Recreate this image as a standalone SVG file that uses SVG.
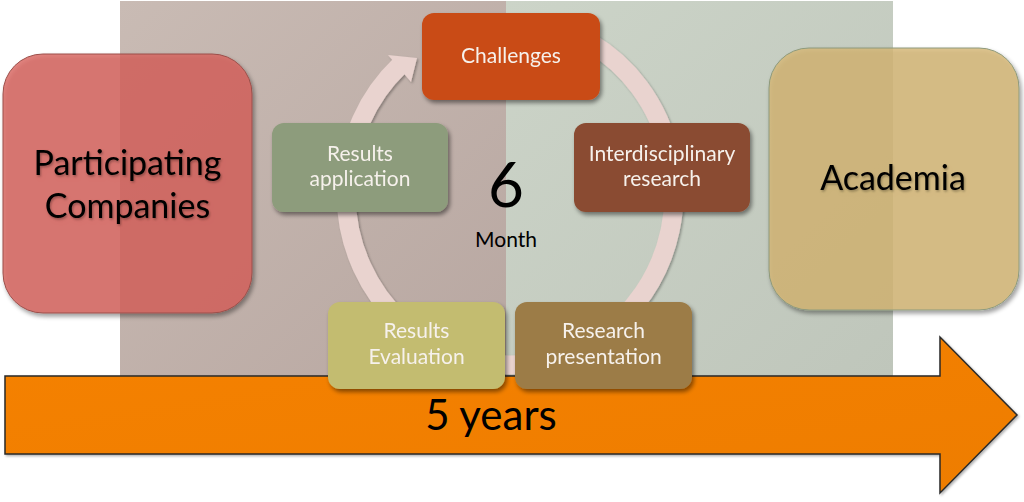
<svg xmlns="http://www.w3.org/2000/svg" width="1024" height="502" viewBox="0 0 1024 502">
<defs>
<style>
.big{font-family:Lato,"Open Sans",sans-serif;font-size:34px;fill:#000;text-anchor:middle}
.nt{font-family:Lato,"Open Sans",sans-serif;font-size:21px;fill:#f6f1ec;text-anchor:middle}
.ctr{font-family:Lato,"Open Sans",sans-serif;fill:#000;text-anchor:middle}
</style>
<linearGradient id="gl" x1="0" y1="0" x2="1" y2="1"><stop offset="0" stop-color="#c9bbb4"/><stop offset="1" stop-color="#b8a7a1"/></linearGradient>
<linearGradient id="gr" x1="0" y1="0" x2="1" y2="1"><stop offset="0" stop-color="#ccd4c8"/><stop offset="1" stop-color="#bfc6bb"/></linearGradient>
<linearGradient id="go" x1="0" y1="0" x2="1" y2="1"><stop offset="0" stop-color="#f58100"/><stop offset="1" stop-color="#ee7d00"/></linearGradient>
<filter id="sh" x="-10%" y="-10%" width="130%" height="140%"><feDropShadow dx="2" dy="3" stdDeviation="2" flood-color="#000" flood-opacity="0.45"/></filter>
<filter id="shr" x="-10%" y="-10%" width="130%" height="130%"><feDropShadow dx="1.5" dy="1.5" stdDeviation="1.2" flood-color="#000" flood-opacity="0.3"/></filter>
<filter id="ts" x="-5%" y="-10%" width="110%" height="130%"><feDropShadow dx="1" dy="1.5" stdDeviation="1" flood-color="#000" flood-opacity="0.3"/></filter>
</defs>
<g id="panels">
<rect x="120" y="1" width="386" height="375" fill="url(#gl)"/>
<rect x="506" y="1" width="387" height="375" fill="url(#gr)"/>
</g>
<g id="participating-companies" filter="url(#sh)">
<rect x="3" y="54" width="249" height="259" rx="40" fill="#d8645e" fill-opacity="0.8" stroke="#9c4f4a" stroke-width="1"/>
<text class="big" x="127.5" y="175" filter="url(#ts)">Participating</text>
<text class="big" x="127.5" y="218" filter="url(#ts)">Companies</text>
</g>
<g id="academia" filter="url(#sh)">
<rect x="769" y="48" width="250" height="262" rx="40" fill="#d6b875" fill-opacity="0.8" stroke="#8e9a7c" stroke-width="1"/>
<text class="big" x="893" y="190" filter="url(#ts)">Academia</text>
</g>
<g id="connectors" filter="url(#shr)">
<path d="M590,42.8 A164,172 0 1 1 400,65.4" fill="none" stroke="#e9d3cf" stroke-width="19"/>
<polygon points="388,55 417,58 411,82" fill="#e9d3cf"/>
</g>
<g id="timeline">
<polygon points="5,376 940,376 940,337 1017,415 940,493 940,454 5,454" fill="url(#go)" stroke="#2a2a2a" stroke-width="1.5" filter="url(#shr)"/>
<text class="ctr" x="491" y="430" font-size="42">5 years</text>
</g>
<g id="center-label">
<text class="ctr" x="506" y="207" font-size="62">6</text>
<text class="ctr" x="506" y="247" font-size="21">Month</text>
</g>
<g id="challenges" filter="url(#sh)">
<rect x="422" y="13" width="178" height="87" rx="12" fill="#c94c17"/>
<text class="nt" x="511" y="63">Challenges</text>
</g>
<g id="interdisciplinary-research" filter="url(#sh)">
<rect x="574" y="123" width="176" height="89" rx="12" fill="#8a4b31"/>
<text class="nt" x="662" y="161">Interdisciplinary</text>
<text class="nt" x="662" y="186">research</text>
</g>
<g id="research-presentation" filter="url(#sh)">
<rect x="515" y="302" width="177" height="87" rx="12" fill="#9c7c47"/>
<text class="nt" x="603.5" y="338">Research</text>
<text class="nt" x="603.5" y="364">presentation</text>
</g>
<g id="results-evaluation" filter="url(#sh)">
<rect x="328" y="302" width="177" height="87" rx="12" fill="#c3bc70"/>
<text class="nt" x="416.5" y="338">Results</text>
<text class="nt" x="416.5" y="364">Evaluation</text>
</g>
<g id="results-application" filter="url(#sh)">
<rect x="272" y="123" width="176" height="89" rx="12" fill="#8d9c7b"/>
<text class="nt" x="360" y="161">Results</text>
<text class="nt" x="360" y="186">application</text>
</g>
</svg>
